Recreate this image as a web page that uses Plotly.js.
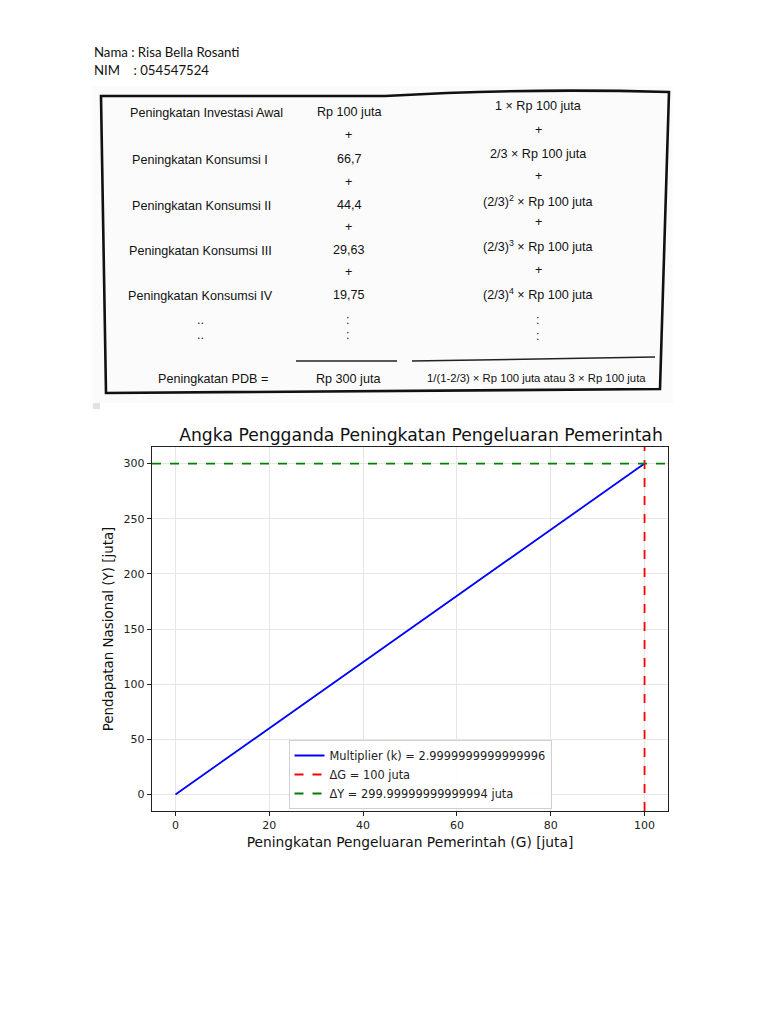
<!DOCTYPE html>
<html>
<head>
<meta charset="utf-8">
<script src="https://cdn.plot.ly/plotly-3.0.1.min.js"></script>
<style>
html,body{margin:0;padding:0;background:#fff;}
#page{width:768px;height:1024px;}
</style>
</head>
<body>
<div id="page"></div>
<script>
// ---- Chart data ----
const govSpending = [0, 20, 40, 60, 80, 100];      // G [juta]
const nationalIncome = [0, 60, 120, 180, 240, 300]; // Y [juta]
const deltaG = 100;
const deltaY = 300;
const xTicks = [0, 20, 40, 60, 80, 100];
const yTicks = [0, 50, 100, 150, 200, 250, 300];
const seriesNames = [
  "Multiplier (k) = 2.9999999999999996",
  "ΔG = 100 juta",
  "ΔY = 299.99999999999994 juta"
];

// ---- Header & table text ----
const headerLines = ["Nama : Risa Bella Rosanti", "NIM    : 054547524"];
const rowLabels = ["Peningkatan Investasi Awal", "Peningkatan Konsumsi I", "Peningkatan Konsumsi II",
                   "Peningkatan Konsumsi III", "Peningkatan Konsumsi IV"];
const rowValues = ["Rp 100 juta", "66,7", "44,4", "29,63", "19,75"];
const rowFormulas = ["1 × Rp 100 juta", "2/3 × Rp 100 juta", "(2/3)<sup>2</sup> × Rp 100 juta",
                     "(2/3)<sup>3</sup> × Rp 100 juta", "(2/3)<sup>4</sup> × Rp 100 juta"];
const totalLabel = "Peningkatan PDB =";
const totalValue = "Rp 300 juta";
const totalFormula = "1/(1-2/3) × Rp 100 juta atau 3 × Rp 100 juta";

const W = 768, H = 1024;
const px = x => x / W;
const py = y => 1 - y / H;

const tableFont = {family: "Liberation Sans, Arial, sans-serif", size: 12.6, color: "#111"};
const ann = [];
function txt(x, y, text, font, xanchor) {
  ann.push({xref: "paper", yref: "paper", x: px(x), y: py(y), text: text, showarrow: false,
            xanchor: xanchor || "center", yanchor: "middle", font: font || tableFont});
}

// header
const headFont = {family: "Lato, Open Sans, sans-serif", size: 13.2, color: "#111"};
txt(92, 52, headerLines[0], headFont, "left");
txt(92, 70, headerLines[1], headFont, "left");

// table rows
const rowY = [113, 160, 206, 251, 296];
const col3Y = [106, 154, 201, 246, 294];
const colLabelX = [206, 200, 201, 200, 200];
for (let i = 0; i < rowLabels.length; i++) {
  txt(colLabelX[i], rowY[i], rowLabels[i]);
  txt(349, rowY[i] - 1, rowValues[i]);
  txt(538, col3Y[i], rowFormulas[i]);
}
const plusY2 = [135, 182, 227, 272];
const plusY3 = [130, 176, 222, 270];
for (let i = 0; i < 4; i++) {
  txt(348, plusY2[i], "+");
  txt(538, plusY3[i], "+");
}
txt(200, 320, "..");
txt(200, 335, "..");
txt(348, 320, ":");
txt(348, 335, ":");
txt(538, 320, ":");
txt(538, 336, ":");
txt(213, 379, totalLabel);
txt(348, 379, totalValue);
txt(536, 378, totalFormula, {family: "Liberation Sans, Arial, sans-serif", size: 11.3, color: "#111"});

const shapes = [
  // scan background
  {type: "rect", xref: "paper", yref: "paper", x0: px(92), x1: px(673), y0: py(403), y1: py(86),
   fillcolor: "#fbfbfb", line: {width: 0}, layer: "below"},
  // table border (slightly skewed scan)
  {type: "path", xref: "paper", yref: "paper",
   path: `M ${px(101)} ${py(96)} L ${px(385)} ${py(96)} Q ${px(520)} ${py(88)} ${px(669)} ${py(92)} L ${px(660)} ${py(389)} L ${px(106)} ${py(393)} Z`,
   line: {color: "#111", width: 2.6}, fillcolor: "rgba(0,0,0,0)"},
  // sum lines
  {type: "line", xref: "paper", yref: "paper", x0: px(296), x1: px(397), y0: py(361), y1: py(361),
   line: {color: "#222", width: 1.5}},
  {type: "line", xref: "paper", yref: "paper", x0: px(412), x1: px(655), y0: py(361), y1: py(357),
   line: {color: "#222", width: 1.5}},
  // small faint caption mark
  {type: "rect", xref: "paper", yref: "paper", x0: px(93), x1: px(100), y0: py(409), y1: py(403),
   fillcolor: "#e2e2e2", line: {width: 0}}
];

const tickFont = {family: "DejaVu Sans, sans-serif", size: 11, color: "#222"};
const legFont = {family: "DejaVu Sans, sans-serif", size: 11.4, color: "#222"};

const traces = [
  {x: govSpending, y: nationalIncome, mode: "lines", name: seriesNames[0],
   line: {color: "#0000ff", width: 1.8}},
  {x: [deltaG, deltaG], y: [-15, 315], mode: "lines", name: seriesNames[1],
   line: {color: "#ff0000", width: 1.8, dash: "dash"}},
  {x: [-5, 105], y: [deltaY, deltaY], mode: "lines", name: seriesNames[2],
   line: {color: "#008000", width: 1.8, dash: "dash"}}
];

const layout = {
  width: W, height: H,
  margin: {l: 0, r: 0, t: 0, b: 0},
  paper_bgcolor: "#fff", plot_bgcolor: "#fff",
  font: {family: "DejaVu Sans, sans-serif", color: "#222"},
  title: {text: "Angka Pengganda Peningkatan Pengeluaran Pemerintah", x: px(421), y: py(435),
          xanchor: "center", yanchor: "middle", xref: "paper", yref: "paper",
          font: {family: "DejaVu Sans, sans-serif", size: 17.2, color: "#111"}},
  xaxis: {domain: [px(152), px(668)], range: [-5, 105], tickvals: xTicks, ticktext: xTicks.map(String),
          showgrid: true, gridcolor: "#e6e6e6", gridwidth: 1, zeroline: false,
          showline: true, linecolor: "#222", linewidth: 1.2, mirror: true,
          ticks: "outside", ticklen: 4, tickcolor: "#222", tickfont: tickFont, automargin: false,
          title: {text: "Peningkatan Pengeluaran Pemerintah (G) [juta]", standoff: 6,
                  font: {family: "DejaVu Sans, sans-serif", size: 13.8, color: "#111"}}},
  yaxis: {domain: [py(811), py(447)], range: [-15, 315], tickvals: yTicks, ticktext: yTicks.map(String),
          showgrid: true, gridcolor: "#e6e6e6", gridwidth: 1, zeroline: false,
          showline: true, linecolor: "#222", linewidth: 1.2, mirror: true,
          ticks: "outside", ticklen: 4, tickcolor: "#222", tickfont: tickFont, automargin: false,
          title: {text: "Pendapatan Nasional (Y) [juta]", standoff: 7,
                  font: {family: "DejaVu Sans, sans-serif", size: 13.4, color: "#111"}}},
  showlegend: true,
  legend: {x: px(420), y: py(809), xanchor: "center", yanchor: "bottom",
           bgcolor: "rgba(255,255,255,0.85)", bordercolor: "#d0d0d0", borderwidth: 1,
           font: legFont, itemwidth: 30, tracegroupgap: 0},
  annotations: ann,
  shapes: shapes
};

Plotly.newPlot("page", traces, layout, {displayModeBar: false, staticPlot: true});
</script>
</body>
</html>
